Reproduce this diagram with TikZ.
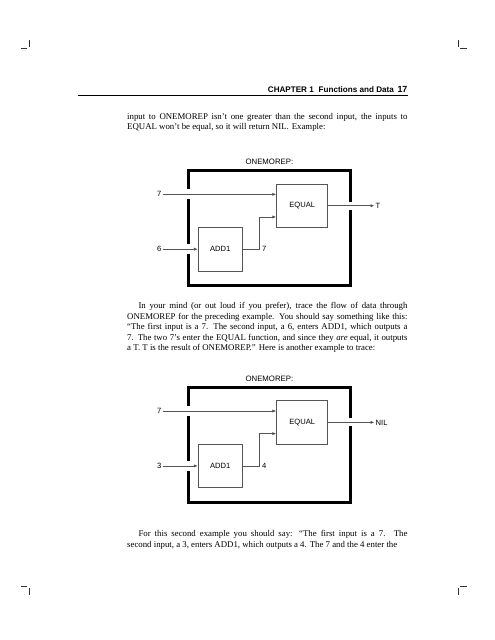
\documentclass[tikz,border=0pt]{standalone}
\usepackage{fontspec}
\setmainfont{Liberation Serif}
\setsansfont{Liberation Sans}
\usetikzlibrary{arrows.meta,calc}
\definecolor{wiregray}{HTML}{555555}
\tikzset{
  cropmark/.style={line width=0.7pt, draw=black!80},
  headtext/.style={font=\sffamily\bfseries\fontsize{8.1}{10}\selectfont, inner sep=0pt},
  headrule/.style={line width=0.9pt},
  bodytext/.style={font=\fontsize{8.8}{10.5}\selectfont, text width=280.3pt,
                   align=justify, inner sep=0pt, anchor=base west},
  title/.style={font=\sffamily\fontsize{7.8}{9}\selectfont, inner sep=0pt, anchor=base},
  frame/.style={line width=2.8pt, line join=miter},
  fnbox/.style={draw=wiregray, line width=0.75pt, minimum height=43.4pt,
                font=\sffamily\fontsize{7.6}{9}\selectfont, inner sep=0pt},
  wirelabel/.style={font=\sffamily\fontsize{7.6}{9}\selectfont, inner sep=1pt},
  arrowwire/.style={draw=wiregray, line width=0.75pt,
                    -{Latex[length=4pt,width=3.2pt]}},
}
\newcommand{\headnum}[1]{{\fontsize{8.9}{10}\selectfont #1}}

\begin{document}
\begin{tikzpicture}[x=1pt, y=-1pt]
  \fill[white] (0,0) rectangle (495,640);
  % crop marks
  \draw[cropmark] (21,48.3) -- (27.3,48.3) (29,40) -- (29,46.7);
  \draw[cropmark] (458.5,40) -- (458.5,46.7) (460.3,48.3) -- (466.6,48.3);
  \draw[cropmark] (21,586) -- (27.3,586) (29,588.3) -- (29,594.5);
  \draw[cropmark] (458.5,588.3) -- (458.5,594.5) (460.3,586) -- (466.6,586);

  % running head
  \node[headtext, anchor=base east] (head) at (407.6,92.6)
    {CHAPTER 1\hspace{0.6em}Functions and Data\hspace{0.45em}\headnum{17}};
  \draw[headrule] (78,95.8) -- (407.6,95.8);

  % text
  \node[bodytext] (para1) at (127,119.3)
    {input to ONEMOREP isn't one greater than the second input, the inputs to\linebreak
     EQUAL won't be equal, so it will return NIL\@. Example:};
  \node[bodytext] (para2) at (127,308.7)
    {\hspace*{11.3pt}In your mind (or out loud if you prefer), trace the flow of data through\linebreak
     ONEMOREP for the preceding example. You should say something like this:\linebreak
     ``The first input is a 7. The second input, a 6, enters ADD1, which outputs a\linebreak
     7. The two 7's enter the EQUAL function, and since they \emph{are} equal, it outputs\linebreak
     a T. T is the result of ONEMOREP\@.'' Here is another example to trace:};
  \node[bodytext] (para3) at (127,536.7)
    {\parfillskip=0pt\hspace*{11.3pt}For this second example you should say: ``The first input is a 7. The\linebreak
     second input, a 3, enters ADD1, which outputs a 4. The 7 and the 4 enter the};

  % the two ONEMOREP diagrams
  \foreach \n/\dy/\ina/\inb/\via/\outv in {1/0/7/6/7/T, 2/216.7/7/3/4/NIL}{
    \begin{scope}[yshift=-\dy pt]
      \node[title] (title\n) at (269.4,164.3) {ONEMOREP:};
      % thick frame, open where the wires pass
      \draw[frame] (188.3,189) -- (188.3,170.5) -- (350.5,170.5) -- (350.5,201.6);
      \draw[frame] (350.5,209.6) -- (350.5,285.5) -- (188.3,285.5) -- (188.3,254.4);
      \draw[frame] (188.3,244.2) -- (188.3,199);
      \node[fnbox, minimum width=51pt] (equal\n) at (302.2,205.7) {EQUAL};
      \node[fnbox, minimum width=44pt] (addone\n) at (220.3,249.2) {ADD1};
      \node[wirelabel, anchor=east] (ina\n) at (162.5,194.3) {\ina};
      \node[wirelabel, anchor=east] (inb\n) at (162.5,249.2) {\inb};
      \coordinate (bend\n) at ([xshift=17pt]addone\n.east);
      \node[wirelabel, anchor=west] (via\n) at (261,249.2) {\via};
      \node[wirelabel, anchor=west] (outv\n) at (374.5,205.7) {\outv};
      \draw[arrowwire] (ina\n.east) -- (ina\n.east -| equal\n.west);
      \draw[arrowwire] (inb\n.east) -- (addone\n.west);
      \draw[arrowwire] (addone\n.east) -- (bend\n)
        |- ($(equal\n.north west)!0.755!(equal\n.south west)$);
      \draw[arrowwire] (equal\n.east) -- (outv\n.west);
    \end{scope}
  }
\end{tikzpicture}
\end{document}
